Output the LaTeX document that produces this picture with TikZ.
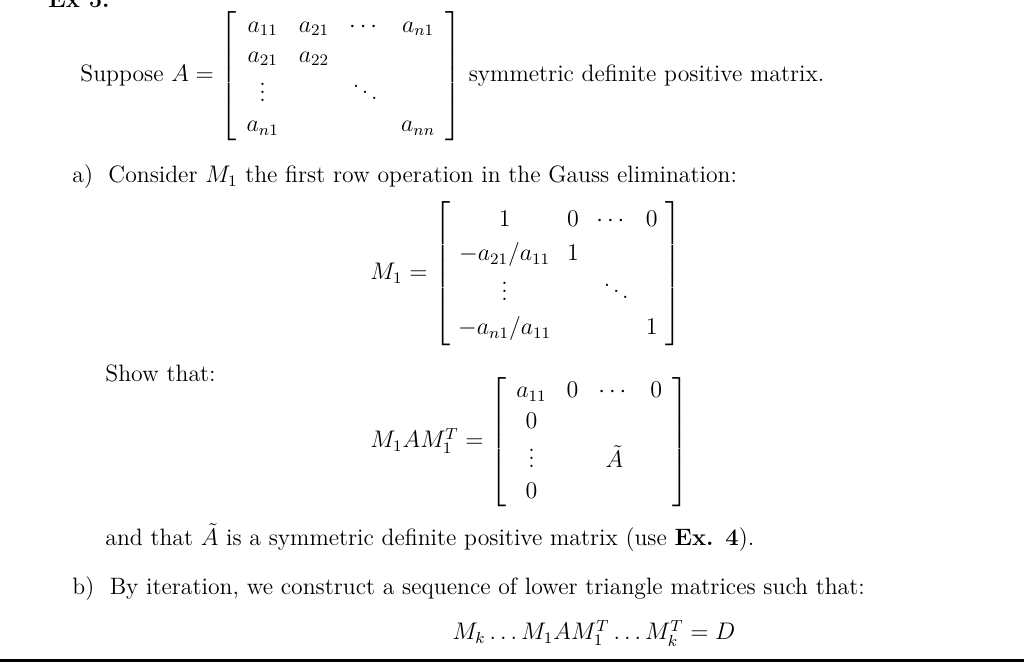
\documentclass[tikz,border=0pt]{standalone}
\usepackage{amsmath}
\begin{document}
\begin{tikzpicture}[x=0.5pt,y=-0.5pt,txt/.style={anchor=base west,inner sep=0pt,font=\fontsize{11.85}{14}\selectfont}]
\useasboundingbox (0,0) rectangle (1024,662);
\fill[black] (0,659) rectangle (1024,662);
\node[txt,font=\fontsize{11.85}{14}\selectfont\bfseries] (ex) at (48,8) {Ex 5.};
\node[txt,anchor=west] (s) at (80,76) {Suppose $A=\left[\renewcommand\arraystretch{1.08}\begin{array}{cccc}
a_{11} & a_{21} & \cdots & a_{n1}\\
a_{21} & a_{22} & & \\
\vdots & & \ddots & \\
a_{n1} & & & a_{nn}
\end{array}\right]$ symmetric definite positive matrix.};
\node[txt] (a) at (72,183) {a)\ \ Consider $M_1$ the first row operation in the Gauss elimination:};
\node[txt,anchor=west] (m1) at (370,274) {$M_1=\left[\renewcommand\arraystretch{1.2}\setlength\arraycolsep{4pt}\begin{array}{cccc}
1 & 0 & \cdots & 0\\
-a_{21}/a_{11} & 1 & & \\
\vdots & & \ \ddots & \\
-a_{n1}/a_{11} & & & 1
\end{array}\right]$};
\node[txt] (show) at (105,382) {Show that:};
\node[txt,anchor=west] (m2) at (370,442) {$M_1AM_1^T=\left[\renewcommand\arraystretch{1.1}\setlength\arraycolsep{5pt}\begin{array}{cccc}
a_{11} & 0 & \cdots & 0\\
0 & & & \\
\vdots & & \tilde A & \\
0 & & &
\end{array}\right]$};
\node[txt] (and) at (105,546) {and that $\tilde A$ is a symmetric definite positive matrix (use \textbf{Ex. 4}).};
\node[txt] (b) at (72,595) {b)\ \ By iteration, we construct a sequence of lower triangle matrices such that:};
\node[txt,anchor=base] (eq) at (594,640) {$M_k\ldots M_1AM_1^T\ldots M_k^T=D$};
\end{tikzpicture}
\end{document}
